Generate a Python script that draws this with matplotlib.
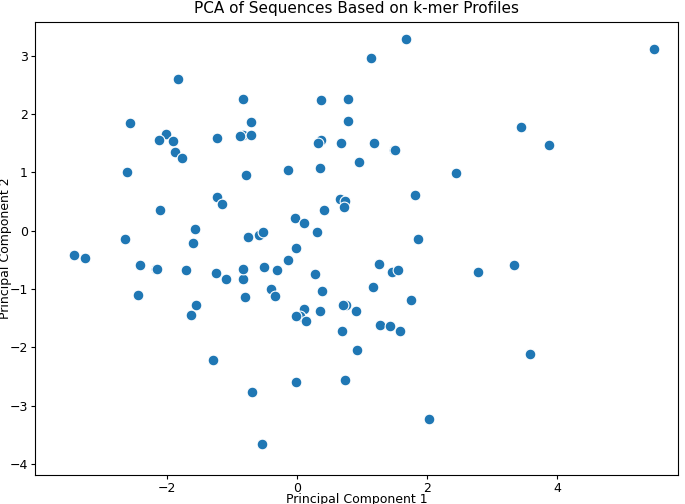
import matplotlib
matplotlib.use("Agg")
import matplotlib.pyplot as plt
import seaborn as sns
import pandas as pd

# PCA scores
pc1 = [1.68, 1.14, 5.49, -1.83, -0.83, -2.57, -0.83, -0.71, 0.78, 0.37,
       0.37, 0.78, 0.68, 1.18, 0.32, 0.95, 1.49, -1.23, -0.88, -0.71,
       -2.02, -1.91, -2.12, -1.88, -1.77, -2.62, -0.78, -0.14, 0.35, 1.51,
       3.88, 3.45, 2.45, -1.23, -1.15, -2.11, 0.66, 0.74, 0.72, 0.42,
       1.82, 1.86, -2.65, -0.03, 0.11, -0.58, -0.52, -0.75, -1.57, -1.60,
       0.31, -0.02, -3.43, -3.26, -2.42, -2.17, -2.15, -1.71, -1.25, -1.09,
       -0.83, -0.51, -0.31, -0.14, 0.28, 1.26, 1.46, 1.55, 3.34, 2.78,
       -2.45, -1.55, -1.63, -0.80, -0.40, -0.34, 0.38, 0.11, 0.05, -0.02,
       0.14, 0.35, 0.75, 1.17, 0.71, 1.28, 1.43, 1.58, 1.75, 0.91,
       0.69, 0.92, -1.29, -0.02, 0.74, 3.58, -0.69, 2.03, -0.54, -0.83]
pc2 = [3.29, 2.95, 3.12, 2.59, 2.26, 1.85, 1.64, 1.87, 1.88, 2.24,
       1.56, 2.25, 1.51, 1.51, 1.50, 1.18, 1.39, 1.58, 1.63, 1.64,
       1.66, 1.54, 1.56, 1.35, 1.25, 1.01, 0.96, 1.04, 1.08, 1.39,
       1.47, 1.78, 0.99, 0.58, 0.46, 0.36, 0.55, 0.51, 0.41, 0.36,
       0.62, -0.15, -0.14, 0.21, 0.14, -0.07, -0.02, -0.10, 0.03, -0.21,
       -0.03, -0.29, -0.41, -0.46, -0.58, -0.65, -0.65, -0.68, -0.72, -0.82,
       -0.82, -0.63, -0.68, -0.50, -0.74, -0.57, -0.70, -0.67, -0.58, -0.70,
       -1.10, -1.28, -1.44, -1.13, -0.99, -1.11, -1.03, -1.34, -1.46, -1.46,
       -1.54, -1.37, -1.27, -0.97, -1.27, -1.61, -1.63, -1.71, -1.18, -1.37,
       -1.71, -2.04, -2.21, -2.59, -2.55, -2.12, -2.77, -3.22, -3.66, -0.66]

df = pd.DataFrame({"PC1": pc1, "PC2": pc2})

fig = plt.figure(figsize=(6.85, 5.04), dpi=100)
ax = fig.add_axes([0.051, 0.058, 0.939, 0.899])
sns.scatterplot(data=df, x="PC1", y="PC2", s=60, color="#1f77b4",
                edgecolor="white", linewidth=0.8, ax=ax)
ax.set_xlim(-4.03, 5.86)
ax.set_ylim(-4.18, 3.58)
ax.set_xticks([-2, 0, 2, 4])
ax.tick_params(labelsize=9, pad=2, length=3)
ax.set_title("PCA of Sequences Based on k-mer Profiles", fontsize=11)
ax.set_xlabel("Principal Component 1", fontsize=9, va="center")
ax.set_ylabel("Principal Component 2", fontsize=9, va="center")
ax.xaxis.set_label_coords(0.5, -0.055)
ax.yaxis.set_label_coords(-0.046, 0.5)
fig.savefig("out.png")
